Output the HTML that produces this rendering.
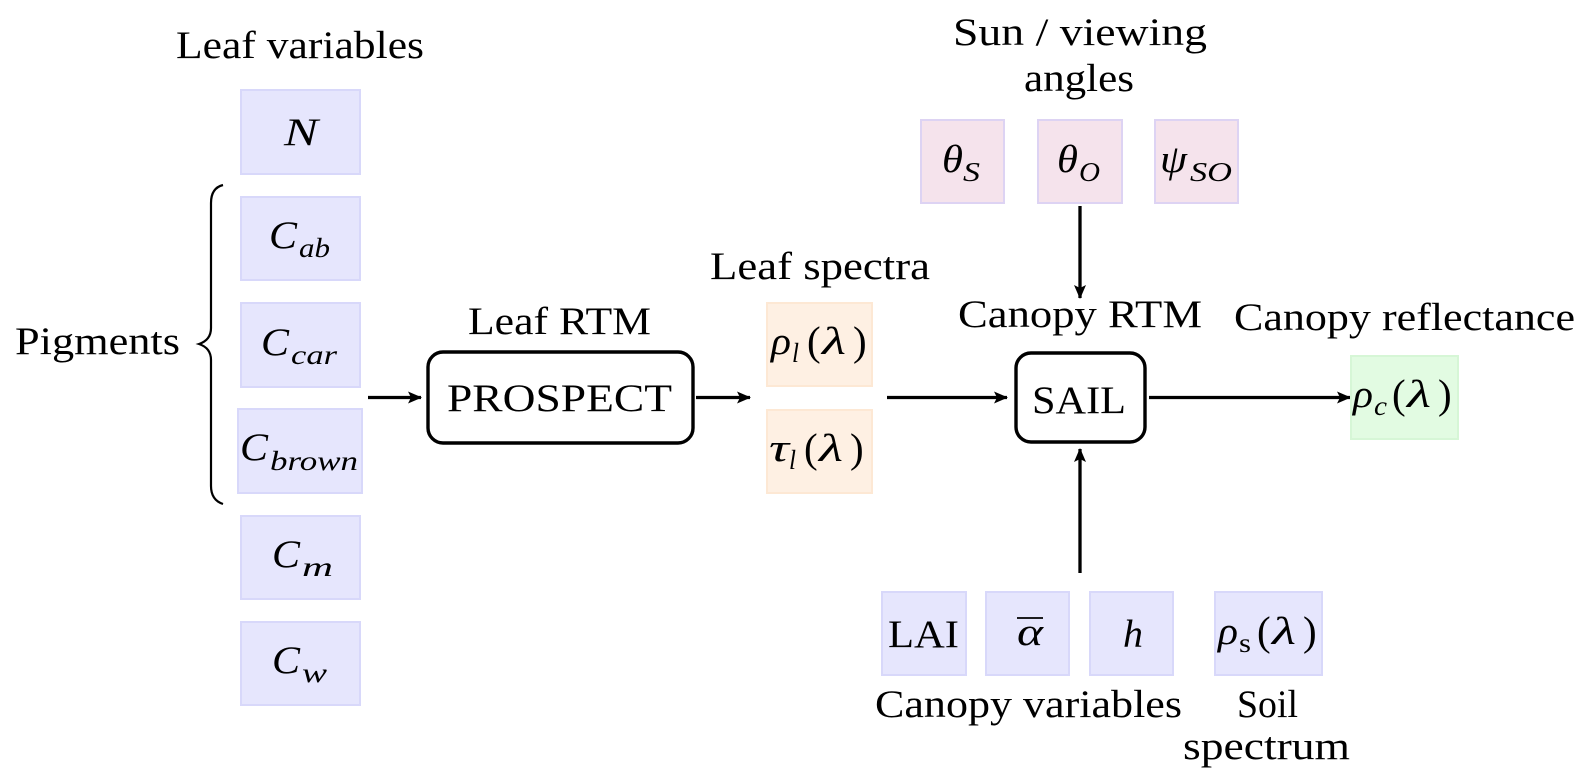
<!DOCTYPE html>
<html><head><meta charset="utf-8"><style>
html,body{margin:0;padding:0;background:#fff;}
svg{display:block;}
text{font-family:"Liberation Serif",serif;fill:#000;}
.t{font-size:39px;}
.m{font-size:39px;font-style:italic;}
.s{font-size:27px;font-style:italic;}
.su{font-size:27px;}
.p{font-size:41px;}
.bl{fill:#e6e6fd;stroke:#d8d8fa;stroke-width:2;}
.pk{fill:#f5e3ec;stroke:#ddd3f3;stroke-width:2;}
.or{fill:#fef0e3;stroke:#fde8d4;stroke-width:2;}
.gr{fill:#e2fbe2;stroke:#d6f6d6;stroke-width:2;}
.ar{stroke:#000;stroke-width:3.3;fill:none;}
</style></head><body>
<svg width="1590" height="781" viewBox="0 0 1590 781" xmlns="http://www.w3.org/2000/svg">
<defs>
<marker id="ah" markerWidth="15" markerHeight="12" refX="13" refY="6" orient="auto" markerUnits="userSpaceOnUse">
<path d="M0,0 L14,6 L0,12 L3,6 Z" fill="#000"/>
</marker>
</defs>

<!-- Left labels -->
<text class="t" x="176" y="58" textLength="248" lengthAdjust="spacingAndGlyphs">Leaf variables</text>
<text class="t" x="15" y="354" textLength="165" lengthAdjust="spacingAndGlyphs">Pigments</text>

<!-- Brace -->
<path d="M223,185 Q211,188 211,203 L211,328 Q211,340 199,344 Q211,348 211,360 L211,486 Q211,500 223,504" fill="none" stroke="#000" stroke-width="2.2"/>

<!-- Left boxes -->
<rect class="bl" x="241" y="90" width="119" height="84"/>
<rect class="bl" x="241" y="197" width="119" height="83"/>
<rect class="bl" x="241" y="303" width="119" height="84"/>
<rect class="bl" x="238" y="409" width="124" height="84"/>
<rect class="bl" x="241" y="516" width="119" height="83"/>
<rect class="bl" x="241" y="622" width="119" height="83"/>

<text class="m" x="284" y="145" textLength="34" lengthAdjust="spacingAndGlyphs">N</text>

<text class="m" x="269" y="248" textLength="28" lengthAdjust="spacingAndGlyphs">C</text>
<text class="s" x="299" y="257" textLength="31" lengthAdjust="spacingAndGlyphs">ab</text>

<text class="m" x="261" y="355" textLength="28" lengthAdjust="spacingAndGlyphs">C</text>
<text class="s" x="291" y="364" textLength="46" lengthAdjust="spacingAndGlyphs">car</text>

<text class="m" x="240" y="460" textLength="28" lengthAdjust="spacingAndGlyphs">C</text>
<text class="s" x="270" y="470" textLength="88" lengthAdjust="spacingAndGlyphs">brown</text>

<text class="m" x="272" y="567" textLength="28" lengthAdjust="spacingAndGlyphs">C</text>
<text class="s" x="302" y="576" textLength="31" lengthAdjust="spacingAndGlyphs">m</text>

<text class="m" x="272" y="673" textLength="28" lengthAdjust="spacingAndGlyphs">C</text>
<text class="s" x="302" y="682" textLength="25" lengthAdjust="spacingAndGlyphs">w</text>

<!-- Arrow 1 -->
<line class="ar" x1="368" y1="397.5" x2="421" y2="397.5" marker-end="url(#ah)"/>

<!-- PROSPECT -->
<text class="t" x="468" y="334" textLength="183" lengthAdjust="spacingAndGlyphs">Leaf RTM</text>
<rect x="428" y="352" width="265" height="91" rx="15" ry="15" fill="#fff" stroke="#000" stroke-width="3.4"/>
<text class="t" x="447" y="411" textLength="225" lengthAdjust="spacingAndGlyphs">PROSPECT</text>

<!-- Arrow 2 -->
<line class="ar" x1="696" y1="397.5" x2="750" y2="397.5" marker-end="url(#ah)"/>

<!-- Leaf spectra -->
<text class="t" x="710" y="279" textLength="220" lengthAdjust="spacingAndGlyphs">Leaf spectra</text>
<rect class="or" x="767" y="303" width="105" height="83"/>
<rect class="or" x="767" y="410" width="105" height="83"/>
<text class="m" x="771" y="354" textLength="20" lengthAdjust="spacingAndGlyphs">ρ</text>
<text class="s" x="792" y="362" textLength="7" lengthAdjust="spacingAndGlyphs">l</text>
<text class="p" x="807" y="355">(</text>
<text class="m" x="822" y="354" textLength="24" lengthAdjust="spacingAndGlyphs">λ</text>
<text class="p" x="853" y="355">)</text>
<text class="m" x="769" y="461" textLength="20" lengthAdjust="spacingAndGlyphs">τ</text>
<text class="s" x="789" y="469" textLength="7" lengthAdjust="spacingAndGlyphs">l</text>
<text class="p" x="804" y="462">(</text>
<text class="m" x="819" y="461" textLength="24" lengthAdjust="spacingAndGlyphs">λ</text>
<text class="p" x="850" y="462">)</text>

<!-- Arrow 3 -->
<line class="ar" x1="887" y1="397.5" x2="1007" y2="397.5" marker-end="url(#ah)"/>

<!-- Sun/viewing -->
<text class="t" x="953" y="45" textLength="254" lengthAdjust="spacingAndGlyphs">Sun / viewing</text>
<text class="t" x="1024" y="91" textLength="110" lengthAdjust="spacingAndGlyphs">angles</text>
<rect class="pk" x="921" y="120" width="83" height="83"/>
<rect class="pk" x="1038" y="120" width="84" height="83"/>
<rect class="pk" x="1155" y="120" width="83" height="83"/>
<text class="m" x="942" y="172" textLength="21" lengthAdjust="spacingAndGlyphs">θ</text>
<text class="s" x="963" y="181" textLength="17" lengthAdjust="spacingAndGlyphs">S</text>
<text class="m" x="1057" y="172" textLength="21" lengthAdjust="spacingAndGlyphs">θ</text>
<text class="s" x="1079" y="181" textLength="21" lengthAdjust="spacingAndGlyphs">O</text>
<text class="m" x="1160" y="172" textLength="27" lengthAdjust="spacingAndGlyphs">ψ</text>
<text class="s" x="1190" y="181" textLength="42" lengthAdjust="spacingAndGlyphs">SO</text>

<!-- Down arrow -->
<line class="ar" x1="1080" y1="206" x2="1080" y2="298" marker-end="url(#ah)"/>

<!-- SAIL -->
<text class="t" x="958" y="327" textLength="244" lengthAdjust="spacingAndGlyphs">Canopy RTM</text>
<rect x="1016" y="353" width="129" height="89" rx="15" ry="15" fill="#fff" stroke="#000" stroke-width="3.4"/>
<text class="t" x="1032" y="413" textLength="94" lengthAdjust="spacingAndGlyphs">SAIL</text>

<!-- Arrow right -->
<line class="ar" x1="1149" y1="397.5" x2="1350" y2="397.5" marker-end="url(#ah)"/>

<!-- Canopy reflectance -->
<text class="t" x="1234" y="330" textLength="341" lengthAdjust="spacingAndGlyphs">Canopy reflectance</text>
<rect class="gr" x="1351" y="356" width="107" height="83"/>
<text class="m" x="1353" y="407" textLength="20" lengthAdjust="spacingAndGlyphs">ρ</text>
<text class="s" x="1374" y="415" textLength="13" lengthAdjust="spacingAndGlyphs">c</text>
<text class="p" x="1392" y="408">(</text>
<text class="m" x="1407" y="407" textLength="24" lengthAdjust="spacingAndGlyphs">λ</text>
<text class="p" x="1438" y="408">)</text>

<!-- Up arrow -->
<line class="ar" x1="1080" y1="573" x2="1080" y2="449" marker-end="url(#ah)"/>

<!-- Bottom boxes -->
<rect class="bl" x="882" y="592" width="84" height="83"/>
<rect class="bl" x="986" y="592" width="83" height="83"/>
<rect class="bl" x="1090" y="592" width="83" height="83"/>
<rect class="bl" x="1215" y="592" width="107" height="83"/>
<text class="t" x="888" y="647" textLength="71" lengthAdjust="spacingAndGlyphs">LAI</text>
<line x1="1017" y1="618" x2="1043" y2="618" stroke="#000" stroke-width="1.8"/>
<text class="m" x="1017" y="645" textLength="26" lengthAdjust="spacingAndGlyphs">α</text>
<text class="m" x="1123" y="647" textLength="20" lengthAdjust="spacingAndGlyphs">h</text>
<text class="m" x="1218" y="644" textLength="20" lengthAdjust="spacingAndGlyphs">ρ</text>
<text class="su" x="1239" y="652" textLength="12" lengthAdjust="spacingAndGlyphs">s</text>
<text class="p" x="1257" y="645">(</text>
<text class="m" x="1272" y="644" textLength="24" lengthAdjust="spacingAndGlyphs">λ</text>
<text class="p" x="1303" y="645">)</text>

<text class="t" x="875" y="717" textLength="307" lengthAdjust="spacingAndGlyphs">Canopy variables</text>
<text class="t" x="1237" y="717" textLength="61" lengthAdjust="spacingAndGlyphs">Soil</text>
<text class="t" x="1183" y="759" textLength="167" lengthAdjust="spacingAndGlyphs">spectrum</text>
</svg>
</body></html>
